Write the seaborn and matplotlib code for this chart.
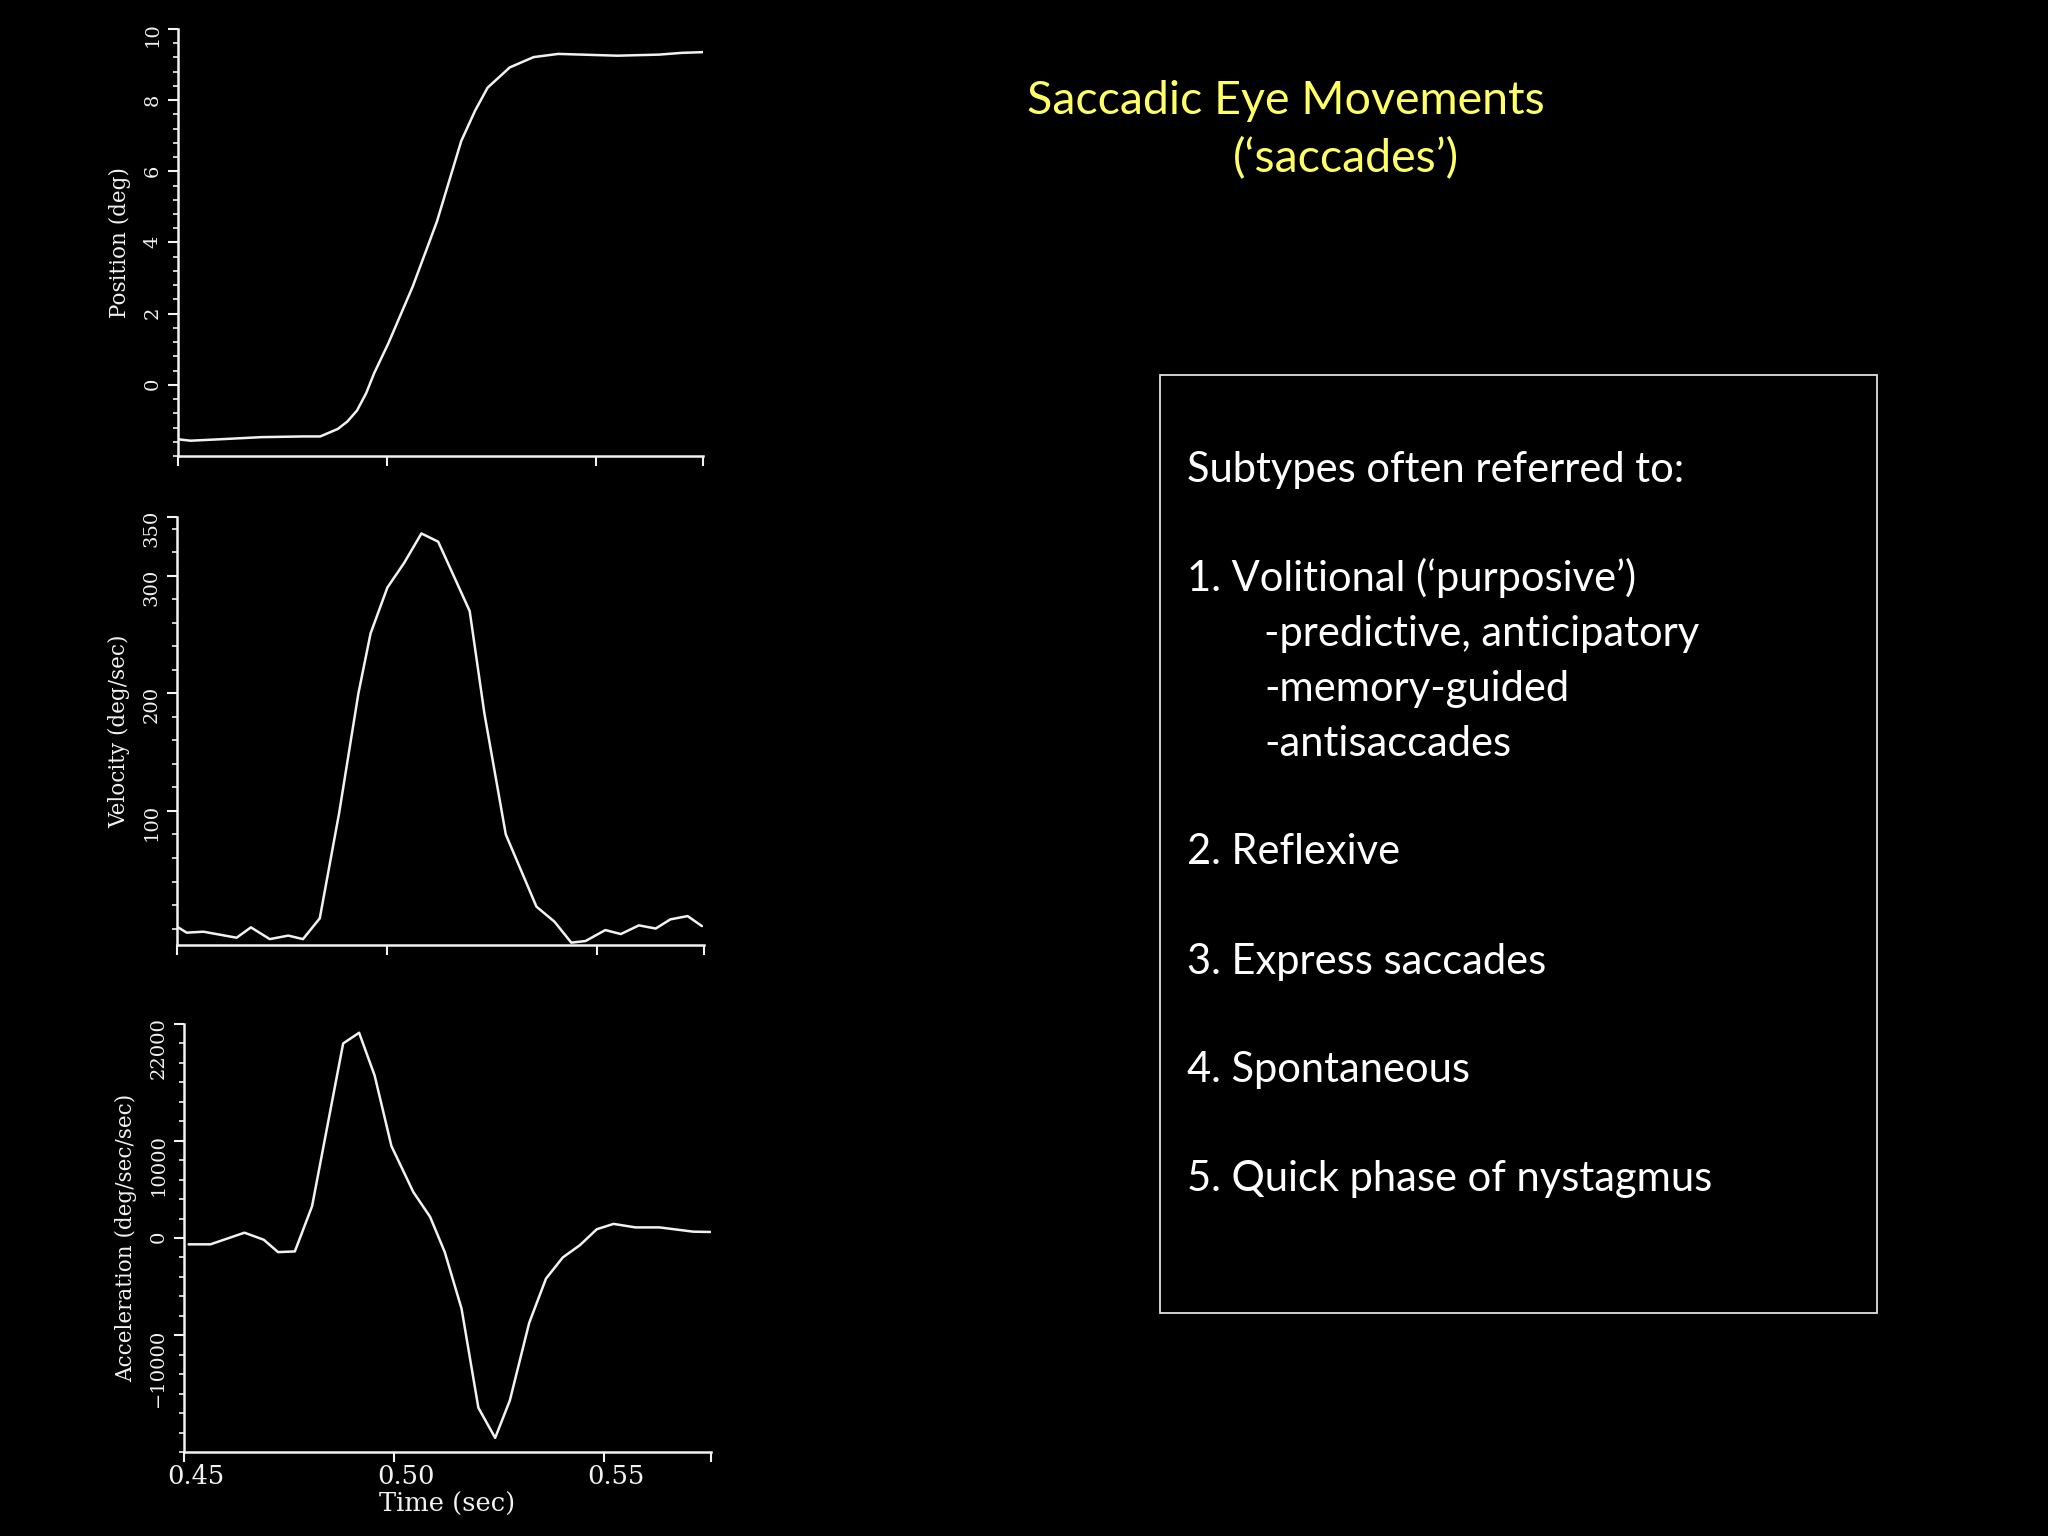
import numpy as np
import matplotlib
matplotlib.use("Agg")
import matplotlib.pyplot as plt
import matplotlib.transforms as mtransforms
from matplotlib.patches import Rectangle
from matplotlib.ticker import MultipleLocator, FixedLocator
import seaborn as sns

# eye position trace (deg)
pos_time = [0.450, 0.453, 0.460, 0.470, 0.480, 0.484, 0.4882, 0.4905, 0.4928, 0.4950,
            0.4969, 0.5003, 0.5061, 0.5119, 0.5177, 0.5210, 0.5240, 0.5293, 0.5350,
            0.5409, 0.5466, 0.5550, 0.5650, 0.5705, 0.5756]
pos_deg = [-1.53, -1.57, -1.53, -1.47, -1.45, -1.45, -1.24, -1.03, -0.72, -0.23,
           0.33, 1.17, 2.76, 4.59, 6.85, 7.70, 8.35, 8.92, 9.21,
           9.30, 9.28, 9.25, 9.28, 9.33, 9.35]

# velocity trace (deg/sec)
vel_time = [0.4500, 0.4523, 0.4563, 0.4642, 0.4676, 0.4721, 0.4765, 0.4800, 0.4840, 0.4886,
            0.4932, 0.4961, 0.5001, 0.5041, 0.5082, 0.5122, 0.5197, 0.5232, 0.5283, 0.5356,
            0.5399, 0.5439, 0.5473, 0.5520, 0.5557, 0.5600, 0.5640, 0.5675, 0.5716, 0.5750]
vel_deg = [1.6, -3.5, -2.7, -7.8, 1.0, -9.0, -6.0, -9.0, 8.7, 98,
           200, 251, 290, 311, 336, 329, 270, 183, 80, 18.6,
           5.8, -12, -10.6, -1.3, -4.7, 2.7, 0.0, 7.8, 10.6, 2.1]

# acceleration trace (deg/sec/sec)
acc_time = [0.4511, 0.4563, 0.4644, 0.4690, 0.4724, 0.4764, 0.4805, 0.4879, 0.4917, 0.4954,
            0.4994, 0.5046, 0.5086, 0.5121, 0.5161, 0.5201, 0.5241, 0.5276, 0.5322, 0.5362,
            0.5402, 0.5443, 0.5483, 0.5523, 0.5575, 0.5632, 0.5713, 0.5753]
acc_deg = [-650, -650, 545, -180, -1450, -1380, 3270, 20000, 21100, 16700,
           9450, 4730, 2180, -1450, -7270, -17450, -20550, -16700, -8730, -4180,
           -2000, -730, 900, 1450, 1090, 1090, 650, 620]

title_lines = ["Saccadic Eye Movements", "(\u2018saccades\u2019)"]
box_lines = ["Subtypes often referred to:",
             "1. Volitional (\u2018purposive\u2019)",
             "-predictive, anticipatory",
             "-memory-guided",
             "-antisaccades",
             "2. Reflexive",
             "3. Express saccades",
             "4. Spontaneous",
             "5. Quick phase of nystagmus"]
box_indent = [False, False, True, True, True, False, False, False, False]

W, H = 2048, 1536
FG = "#f2f2f2"
SERIF = "DejaVu Serif"

sns.set_theme(style="ticks", rc={
    "figure.facecolor": "black", "axes.facecolor": "black",
    "axes.edgecolor": FG, "xtick.color": FG, "ytick.color": FG,
    "axes.labelcolor": FG, "text.color": FG,
})
plt.rcParams["font.family"] = [SERIF, "DejaVu Sans"]

fig = plt.figure(figsize=(W / 100, H / 100), dpi=100)


def px_rect(left, top, right, bottom):
    return [left / W, 1 - bottom / H, (right - left) / W, (bottom - top) / H]


XLIM = (0.45, 0.5755)
panels = [
    (px_rect(178, 29, 703, 456), pos_time, pos_deg, "Position (deg)",
     (-2, 10), [0, 2, 4, 6, 8, 10], 0.4),
    (px_rect(177, 517, 704, 945), vel_time, vel_deg, "Velocity (deg/sec)",
     (-14, 350), [100, 200, 300, 350], 20),
    (px_rect(184, 1024, 711, 1452), acc_time, acc_deg, "Acceleration (deg/sec/sec)",
     (-22000, 22000), [-10000, 0, 10000, 22000], 2000),
]

axes = []
for rect, t, v, label, ylim, majors, minor in panels:
    ax = fig.add_axes(rect)
    sns.lineplot(x=t, y=v, ax=ax, color=FG, linewidth=1.8, estimator=None)
    ax.set_xlim(*XLIM)
    ax.set_ylim(*ylim)
    ax.yaxis.set_major_locator(FixedLocator(majors))
    ax.yaxis.set_minor_locator(MultipleLocator(minor))
    ax.xaxis.set_major_locator(FixedLocator([0.45, 0.50, 0.55, XLIM[1]]))
    ax.xaxis.set_minor_locator(FixedLocator([]))
    for s in ["top", "right"]:
        ax.spines[s].set_visible(False)
    for s in ["left", "bottom"]:
        ax.spines[s].set_linewidth(1.8)
    ax.tick_params(axis="both", which="major", length=7, width=1.5, direction="out")
    ax.tick_params(axis="y", which="minor", length=3.5, width=1.2, direction="out")
    ax.tick_params(axis="y", labelrotation=90, labelsize=14, pad=5)
    ax.set_ylabel(label, fontsize=15.5, labelpad=9)
    ax.set_xlabel("")
    axes.append(ax)

for ax in axes[:2]:
    ax.tick_params(axis="x", labelbottom=False)

ax = axes[2]
ax.set_xticklabels(["0.45", "0.50", "0.55", ""])
ax.tick_params(axis="x", labelsize=18.5, pad=2)
ax.set_xlabel("Time (sec)", fontsize=18.5, labelpad=2)
offset = mtransforms.ScaledTranslation(0.12, 0, fig.dpi_scale_trans)
for lbl in ax.get_xticklabels():
    lbl.set_transform(lbl.get_transform() + offset)
ax.set_yticklabels(["\u221210000", "0", "10000", "22000"])

# slide text on the right
YELLOW = "#ffff66"
fig.text(1027 / W, 1 - 114 / H, title_lines[0], color=YELLOW, fontsize=33.5,
         family="Lato", va="baseline", ha="left")
fig.text(1233 / W, 1 - 172 / H, title_lines[1], color=YELLOW, fontsize=33.5,
         family="Lato", va="baseline", ha="left")

fig.patches.append(Rectangle((1160 / W, 1 - 1313 / H), (1877 - 1160) / W, (1313 - 375) / H,
                             transform=fig.transFigure, fill=False,
                             edgecolor="#e0e0e0", linewidth=1.3))

baselines = [482, 591, 646, 701, 756, 864, 974, 1082, 1191]
for txt, base, ind in zip(box_lines, baselines, box_indent):
    x0 = 1264 if ind else 1187
    fig.text(x0 / W, 1 - base / H, txt, color="white", fontsize=30,
             family="Lato", va="baseline", ha="left")

fig.savefig("out.png", dpi=100, facecolor="black")
